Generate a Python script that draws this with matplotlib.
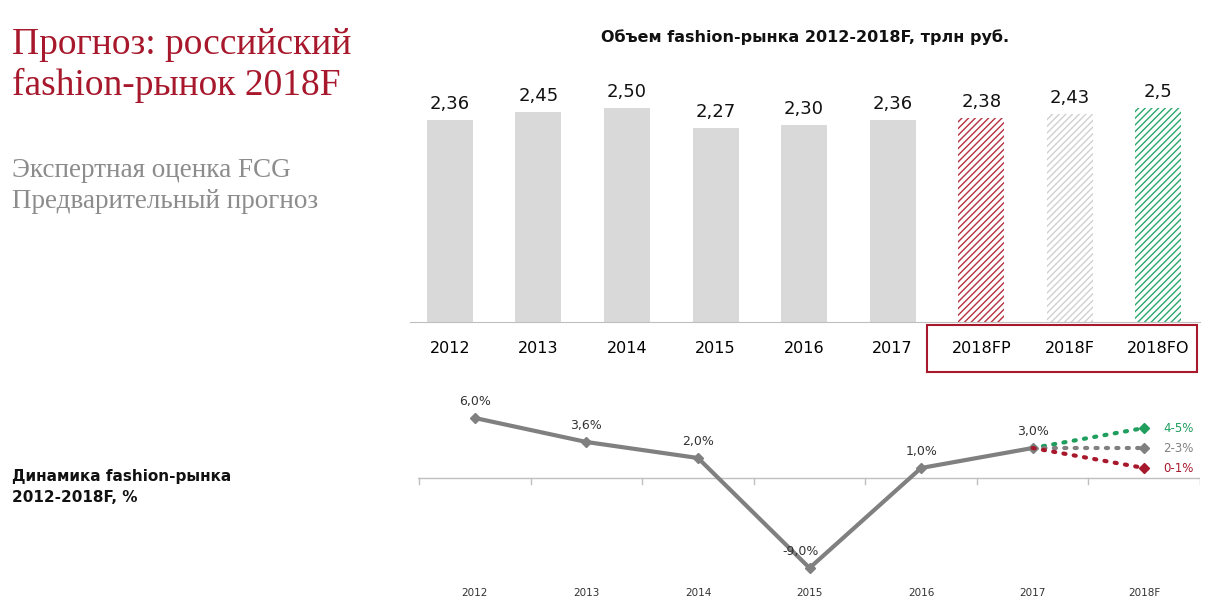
import matplotlib
matplotlib.use("Agg")
import matplotlib.pyplot as plt
from matplotlib.patches import Rectangle

bar_cats = ["2012","2013","2014","2015","2016","2017","2018FP","2018F","2018FO"]
bar_vals = [2.36,2.45,2.50,2.27,2.30,2.36,2.38,2.43,2.5]
bar_labels = ["2,36","2,45","2,50","2,27","2,30","2,36","2,38","2,43","2,5"]

line_cats = ["2012","2013","2014","2015","2016","2017","2018F"]
line_vals = [6.0,3.6,2.0,-9.0,1.0,3.0]
line_labels = ["6,0%","3,6%","2,0%","-9,0%","1,0%","3,0%"]
fc_names = ["4-5%","2-3%","0-1%"]
fc_vals = [5.0,3.0,1.0]

W,H = 1221,611
fig = plt.figure(figsize=(W/100,H/100), dpi=100)
fig.patch.set_facecolor("white")
RED="#a8182c"; GREEN="#1f9e5e"; GREY="#808080"

# Bar chart
ax = fig.add_axes([410/W, 1-322/H, 790/W, 262/H])
xs = range(len(bar_cats))
styles = [dict(color="#d9d9d9")]*6 + [
    dict(facecolor="white", edgecolor="#b5303f", hatch="/////", linewidth=0),
    dict(facecolor="white", edgecolor="#d0d0d0", hatch="/////", linewidth=0),
    dict(facecolor="white", edgecolor="#2aa86a", hatch="/////", linewidth=0)]
for i,(v,s) in enumerate(zip(bar_vals,styles)):
    ax.bar(i, v, width=0.52, **s)
    ax.text(i, v+0.08, bar_labels[i], ha="center", va="bottom", fontsize=13, color="#111111")
ax.set_xlim(-0.45, 8.47); ax.set_ylim(0, 3.06)
ax.set_xticks(list(xs)); ax.set_xticklabels(bar_cats, fontsize=11.5)
ax.tick_params(axis="x", length=0, pad=14)
ax.set_yticks([])
for sp in ["top","right","left"]: ax.spines[sp].set_visible(False)
ax.spines["bottom"].set_color("#bfbfbf")
fig.patches.append(Rectangle((927/W, 1-372/H), 270/W, 47/H, transform=fig.transFigure,
                             fill=False, edgecolor=RED, linewidth=1.5))

# Line chart
ax2 = fig.add_axes([418/W, 1-585/H, 782/W, 185/H])
ax2.set_xlim(-0.51, 6.5); ax2.set_ylim(-10.7, 7.8)
for sp in ax2.spines.values(): sp.set_visible(False)
ax2.axhline(0, color="#bfbfbf", lw=1)
for b in [i+0.5 for i in range(-1,7)]:
    ax2.plot([b,b],[0,-0.6], color="#bfbfbf", lw=1)
ax2.plot(range(len(line_vals)), line_vals, color=GREY, lw=3, marker="D", ms=5)
for i,(v,l) in enumerate(zip(line_vals,line_labels)):
    ax2.text(i-(0.08 if v<0 else 0), v+1.0, l, ha="center", va="bottom", fontsize=9, color="#333333")
fcol = [GREEN, GREY, RED]
for v,n,c in zip(fc_vals, fc_names, fcol):
    ax2.plot([5,6],[3.0,v], color=c, lw=3, ls=(0,(0.5,2)), dash_capstyle="round")
    ax2.plot([6],[v], marker="D", color=c, ms=5)
    ax2.text(6.17, v, n, ha="left", va="center", fontsize=8.5, color=c)
ax2.set_xticks(range(len(line_cats))); ax2.set_xticklabels(line_cats, fontsize=7.5, color="#333333")
ax2.tick_params(axis="x", length=0, pad=2); ax2.set_yticks([])

# Texts
fig.text(12/W, 1-65/H, "Прогноз: российский\nfashion-рынок 2018F", family="Liberation Serif",
         fontsize=27, color=RED, va="center", linespacing=1.2)
fig.text(12/W, 1-186/H, "Экспертная оценка FCG\nПредварительный прогноз", family="Liberation Serif",
         fontsize=19.5, color="#8c8c8c", va="center", linespacing=1.3)
fig.text(805/W, 1-37/H, "Объем fashion-рынка 2012-2018F, трлн руб.", ha="center", va="center",
         fontsize=11.5, weight="bold", color="#111111")
fig.text(12/W, 1-487/H, "Динамика fashion-рынка\n2012-2018F, %", va="center",
         fontsize=11, weight="bold", color="#111111", linespacing=1.5)
fig.savefig("out.png", dpi=100)
